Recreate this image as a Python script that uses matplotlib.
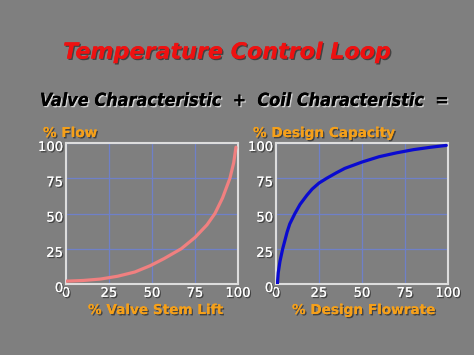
import matplotlib.pyplot as plt
import matplotlib.patheffects as pe
import matplotlib.transforms as mtransforms

# valve characteristic (equal percentage)
valve_x = [0, 10, 20, 30, 40, 49, 57, 67, 75, 82, 86.6, 91, 95.3, 97.5, 98.8]
valve_y = [2, 2.5, 3.5, 5.5, 8.5, 13, 18, 25, 33, 42, 50, 61, 75, 86, 97]

# coil characteristic
coil_x = [0.8, 1.3, 2.3, 3.9, 5.2, 6.5, 8, 11, 14, 18, 21, 25, 29.5, 35, 40, 50, 60, 70, 80, 90, 99]
coil_y = [0, 8, 16, 25, 31, 37, 42.6, 50, 56.5, 63, 67.3, 71.6, 75, 78.8, 82, 86.5, 90.3, 93, 95.3, 97, 98.3]

ticks = [0, 25, 50, 75, 100]

bg = '#7f7f7f'
fig = plt.figure(figsize=(4.74, 3.55), dpi=100, facecolor=bg)

shadow_dark = [pe.withSimplePatchShadow(offset=(1, -1), shadow_rgbFace='#333333', alpha=0.8), pe.Normal()]
shadow_light = [pe.withSimplePatchShadow(offset=(1, -1), shadow_rgbFace='#dddddd', alpha=0.9), pe.Normal()]

fig.text(0.133, 0.852, 'Temperature Control Loop', color='#ee1111', fontsize=16,
         fontweight='bold', style='italic', family=['DejaVu Sans'],
         va='center', ha='left', path_effects=shadow_dark)
fig.text(0.084, 0.716, 'Valve Characteristic  +  Coil Characteristic  =', color='black',
         fontsize=12.9, fontweight='bold', style='italic', fontstretch='condensed',
         family=['DejaVu Sans'],
         va='center', ha='left', path_effects=shadow_light)

W, H = 474, 355


def make_ax(x0, x1, y0, y1, xs, ys, color, ylab, xlab, ylab_x, xlab_x):
    ax = fig.add_axes([x0 / W, 1 - y1 / H, (x1 - x0) / W, (y1 - y0) / H])
    ax.set_facecolor(bg)
    ax.plot(xs, ys, color=color, lw=2.3, solid_capstyle='round', solid_joinstyle='round', zorder=3)
    ax.set_xlim(0, 100)
    ax.set_ylim(0, 100)
    ax.set_xticks(ticks)
    ax.set_yticks(ticks)
    ax.grid(True, color='#6f80c8', lw=0.9)
    for s in ax.spines.values():
        s.set_color('#dddddd')
        s.set_linewidth(1.5)
    ax.tick_params(length=0, colors='white', labelsize=9.5, pad=2)
    shift = mtransforms.ScaledTranslation(0, -3 / 100, fig.dpi_scale_trans)
    for lab in ax.get_yticklabels():
        lab.set_transform(lab.get_transform() + shift)
    for lab in ax.get_xticklabels() + ax.get_yticklabels():
        lab.set_path_effects(shadow_dark)
    fig.text(ylab_x / W, 1 - 133 / H, ylab, color='#f5a01a', fontsize=9.8,
             fontweight='bold', va='center', ha='left', path_effects=shadow_dark)
    fig.text(xlab_x / W, 1 - 310 / H, xlab, color='#f5a01a', fontsize=9.8,
             fontweight='bold', va='center', ha='left', path_effects=shadow_dark)
    return ax


make_ax(66, 238, 143, 284, valve_x, valve_y, '#f08080', '% Flow', '% Valve Stem Lift', 43, 88)
make_ax(276, 448, 143, 284, coil_x, coil_y, '#0a0ad0', '% Design Capacity', '% Design Flowrate', 253, 292)

fig.savefig('out.png', dpi=100, facecolor=bg)
